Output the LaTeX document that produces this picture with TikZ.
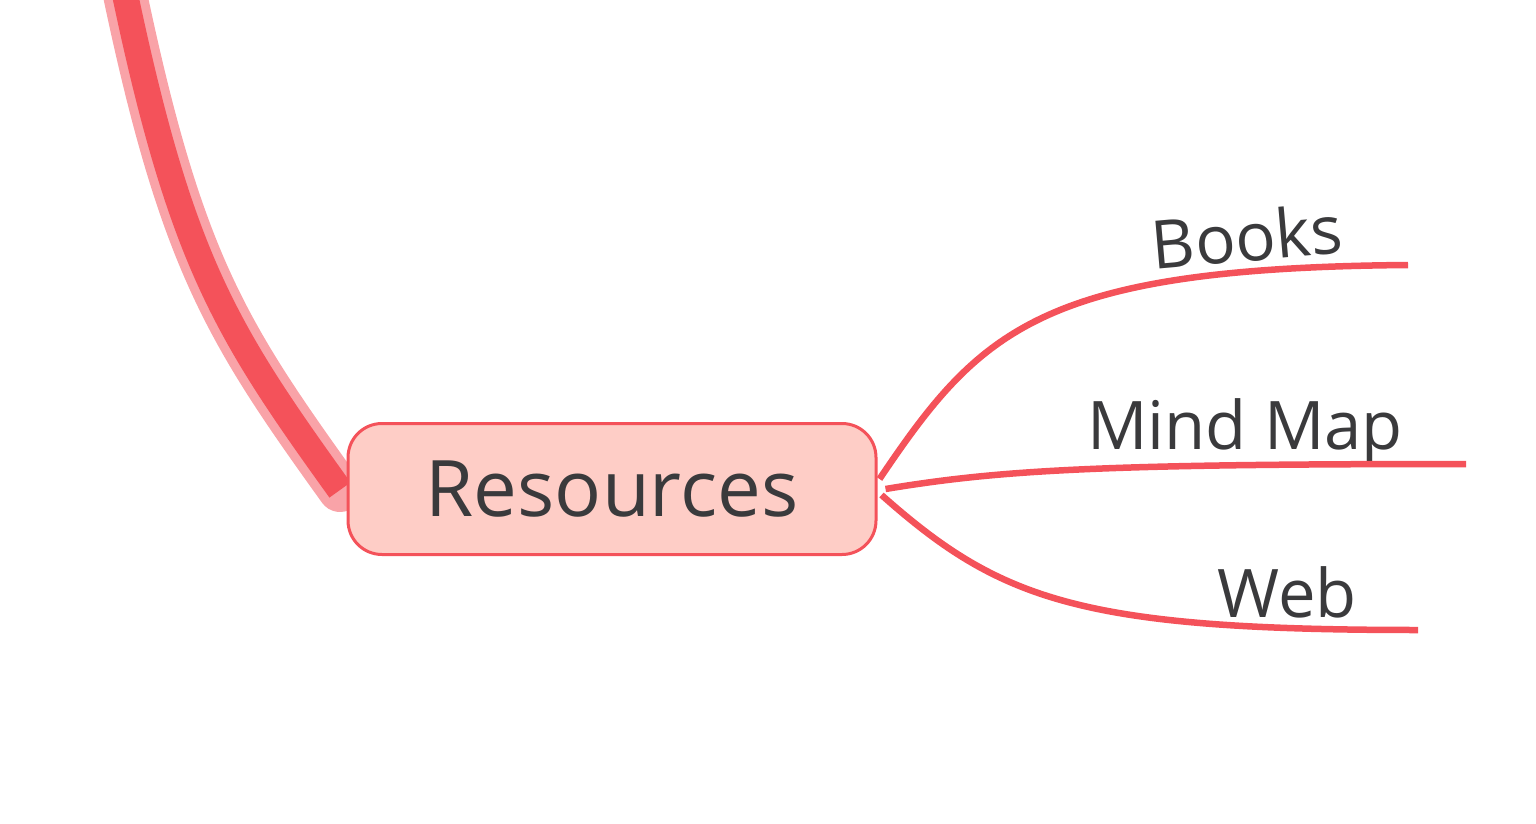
\documentclass[tikz,border=0pt]{standalone}
\usepackage{fontspec}
\setmainfont{Open Sans}
\usepackage{tikz}
\usetikzlibrary{positioning}
\definecolor{mmred}{HTML}{F4525A}
\definecolor{mmpink}{HTML}{F9A3A8}
\definecolor{mmfill}{HTML}{FECDC6}
\definecolor{mmtext}{HTML}{3A3A3C}
\tikzset{
  topic/.style={draw=mmred,line width=3pt,fill=mmfill,rounded corners=34pt,
    minimum width=528pt,minimum height=131pt,text=mmtext,font=\fontsize{78}{78}\selectfont},
  leaf/.style={text=mmtext,font=\fontsize{67}{67}\selectfont,inner sep=0pt},
  twig/.style={mmred,line width=6.5pt}
}
\begin{document}
\begin{tikzpicture}[x=1pt,y=-1pt]
\useasboundingbox (0,0) rectangle (1536,824);
% main branch
\draw[mmpink,line width=44pt,line cap=round] (122,-20) .. controls (180,260) and (225,330) .. (340,490);
\draw[mmred,line width=26pt] (122,-20) .. controls (180,260) and (225,330) .. (340,490);
\node[topic] (res) at (612,489) {Resources};
% sub topics
\node[leaf,rotate=5] (books) at (1247,236) {Books};
\node[leaf] (mind) at (1245,432) {Mind Map};
\node[leaf] (web) at (1287,592) {Web};
\coordinate (booksend) at (1408,265);
\coordinate (mindend) at (1466,464);
\coordinate (webend) at (1418,630);
\draw[twig] (res.east) ++(2,-10) .. controls (980,330) and (1040,268) .. (booksend);
\draw[twig] (res.east) ++(8,0) .. controls (1000,470) and (1100,464) .. (mindend);
\draw[twig] (res.east) ++(4,6) .. controls (1000,600) and (1080,630) .. (webend);
\end{tikzpicture}
\end{document}
